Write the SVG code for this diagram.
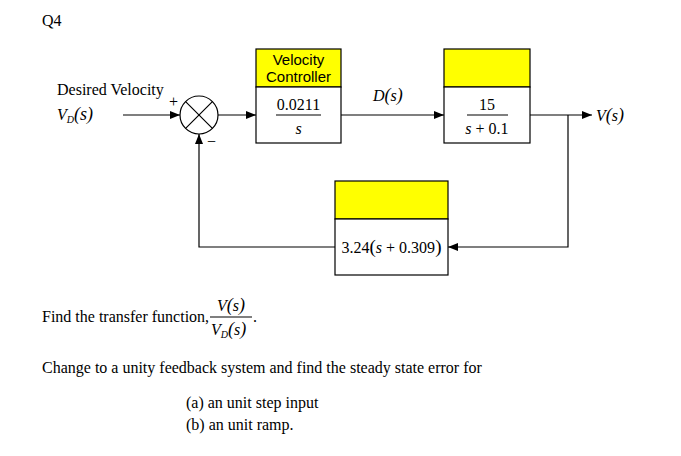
<svg xmlns="http://www.w3.org/2000/svg" width="681" height="456" viewBox="0 0 681 456">
<style>
text{font-family:"Liberation Serif",serif;font-size:16px;fill:#000}
.i{font-style:italic}
.s{font-family:"Liberation Sans",sans-serif;font-size:15px}
.box{fill:#fff;stroke:#000;stroke-width:1.2}
.y{fill:#ffff00;stroke:#000;stroke-width:1.2}
.ln{fill:none;stroke:#000;stroke-width:1.2}
</style>
<defs><marker id="a" markerWidth="10" markerHeight="8" refX="10" refY="4" orient="auto" markerUnits="userSpaceOnUse"><path d="M0,0 L10,4 L0,8 Z" fill="#000"/></marker></defs>
<rect width="681" height="456" fill="#fff"/>
<text x="42" y="26">Q4</text>
<g id="input"><text x="57" y="95">Desired  Velocity</text><text x="57" y="120" class="i">V<tspan font-size="10" dy="3">D</tspan><tspan dy="-3" font-size="18">(s)</tspan></text></g>
<g id="sum"><circle cx="199" cy="115" r="19" class="ln"/><path d="M185.6,101.6 L212.4,128.4 M212.4,101.6 L185.6,128.4" class="ln"/><text x="169" y="107" font-size="13">+</text><text x="207" y="147" font-size="13">−</text></g>
<g id="controller"><rect x="256" y="49" width="85" height="38" class="y"/><rect x="256" y="87" width="85" height="56" class="box"/><text x="298.5" y="65" class="s" text-anchor="middle">Velocity</text><text x="298.5" y="82" class="s" text-anchor="middle">Controller</text><text x="298.5" y="110" text-anchor="middle">0.0211</text><line x1="276" y1="115" x2="321" y2="115" class="ln" stroke-width="0.8"/><text x="298.5" y="134" class="i" text-anchor="middle">s</text></g>
<g id="plant"><rect x="444" y="49" width="86" height="38" class="y"/><rect x="444" y="87" width="86" height="56" class="box"/><text x="487" y="110" text-anchor="middle">15</text><line x1="467" y1="115" x2="508" y2="115" class="ln" stroke-width="0.8"/><text x="487" y="134" text-anchor="middle"><tspan class="i">s</tspan> + 0.1</text></g>
<g id="feedback"><rect x="335" y="181" width="113" height="38" class="y"/><rect x="335" y="219" width="113" height="56" class="box"/><text x="391.5" y="253" text-anchor="middle">3.24<tspan font-size="19">(</tspan><tspan class="i">s</tspan> + 0.309<tspan font-size="19">)</tspan></text></g>
<g id="connectors">
<line x1="123" y1="115" x2="180" y2="115" class="ln" marker-end="url(#a)"/>
<line x1="218" y1="115" x2="256" y2="115" class="ln" marker-end="url(#a)"/>
<line x1="341" y1="115" x2="444" y2="115" class="ln" marker-end="url(#a)"/>
<line x1="530" y1="115" x2="592" y2="115" class="ln" marker-end="url(#a)"/>
<polyline points="568,115 568,247 448,247" class="ln" marker-end="url(#a)"/>
<polyline points="335,247 199,247 199,134" class="ln" marker-end="url(#a)"/>
</g>
<text x="373" y="101" class="i">D<tspan font-size="18">(</tspan>s<tspan font-size="18">)</tspan></text>
<text x="596" y="121" class="i">V<tspan font-size="18">(</tspan>s<tspan font-size="18">)</tspan></text>
<text x="42" y="322">Find the transfer function,</text>
<text x="231" y="311" text-anchor="middle" class="i">V<tspan font-size="18">(</tspan>s<tspan font-size="18">)</tspan></text>
<line x1="210" y1="317" x2="252" y2="317" class="ln" stroke-width="0.8"/>
<text x="211" y="335" class="i">V<tspan font-size="10" dy="3">D</tspan><tspan dy="-3" font-size="18">(</tspan>s<tspan font-size="18">)</tspan></text>
<text x="253" y="322">.</text>
<text x="42" y="373">Change to a unity feedback system and find the steady state error for</text>
<text x="186" y="408">(a)  an unit step input</text>
<text x="186" y="430">(b)  an unit ramp.</text>
</svg>
